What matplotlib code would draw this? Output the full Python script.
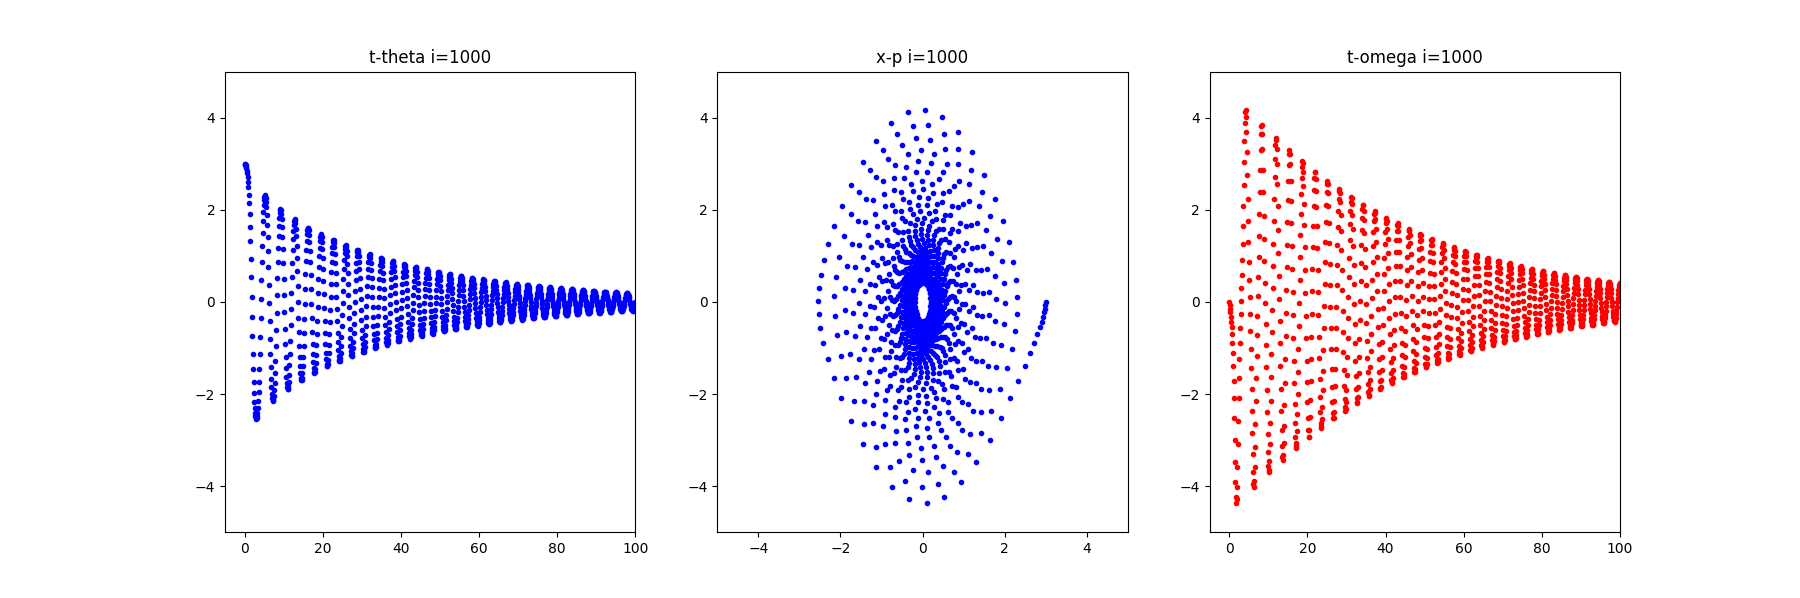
import numpy as np
import matplotlib
matplotlib.use("Agg")
import matplotlib.pyplot as plt

# simulation parameters (damped pendulum)
theta0 = 3.0
omega0 = 0.0
k = 5.0        # g/L
b = 0.05       # damping
dt = 0.1
n_steps = 1000

def f(th, om):
    return om, -k * np.sin(th) - b * om

t = [0.0]; th = [theta0]; om = [omega0]
for i in range(n_steps):
    x, v = th[-1], om[-1]
    k1 = f(x, v)
    k2 = f(x + dt/2*k1[0], v + dt/2*k1[1])
    k3 = f(x + dt/2*k2[0], v + dt/2*k2[1])
    k4 = f(x + dt*k3[0], v + dt*k3[1])
    th.append(x + dt/6*(k1[0]+2*k2[0]+2*k3[0]+k4[0]))
    om.append(v + dt/6*(k1[1]+2*k2[1]+2*k3[1]+k4[1]))
    t.append(t[-1] + dt)
t = np.array(t); th = np.array(th); om = np.array(om)

fig, axs = plt.subplots(1, 3, figsize=(18, 5.98), dpi=100)
axs[0].plot(t, th, '.', color='blue')
axs[0].set_title('t-theta i=1000')
axs[0].set_xlim(-5, 100); axs[0].set_ylim(-5, 5)
axs[1].plot(th, om, '.', color='blue')
axs[1].set_title('x-p i=1000')
axs[1].set_xlim(-5, 5); axs[1].set_ylim(-5, 5)
axs[2].plot(t, om, '.', color='red')
axs[2].set_title('t-omega i=1000')
axs[2].set_xlim(-5, 100); axs[2].set_ylim(-5, 5)
fig.savefig('out.png')
